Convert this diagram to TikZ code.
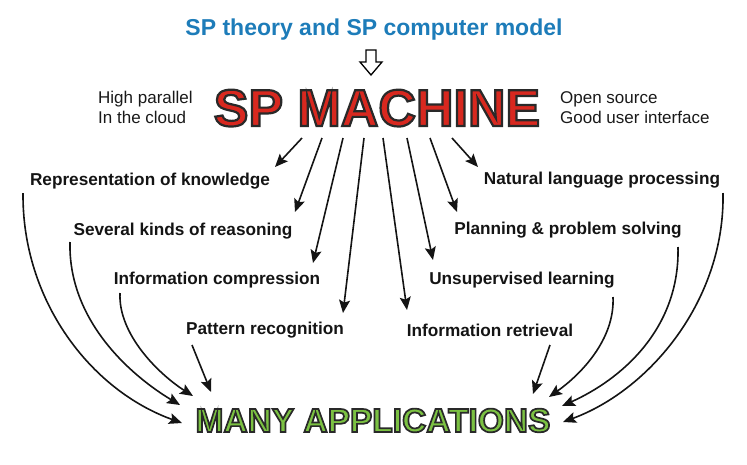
\documentclass[tikz,border=0pt]{standalone}
\usepackage{fontspec}
\setmainfont{Liberation Sans}
\usetikzlibrary{arrows.meta}
\definecolor{spblue}{HTML}{1D7CB9}
\definecolor{spred}{HTML}{D8281F}
\definecolor{spgreen}{HTML}{7BC142}
\newcommand{\outlinedtext}[2]{\special{pdf:literal direct 2 Tr #1 w 0.16 0.16 0.16 RG}#2\special{pdf:literal direct 0 Tr}}
\begin{document}
\begin{tikzpicture}[x=1pt,y=-1pt,
  lbl/.style={anchor=base, font=\fontsize{17.2}{19}\selectfont\bfseries, inner sep=0pt, text=black!92},
  side/.style={anchor=base west, font=\fontsize{17}{19}\selectfont, inner sep=0pt, text=black!90},
  arr/.style={-{Stealth[length=13pt,width=11pt,inset=2.5pt]}, line width=1.6pt, draw=black!92}]
\useasboundingbox (0,0) rectangle (747,464);

% title
\node[anchor=base, inner sep=0pt, text=spblue, font=\fontsize{23}{25}\selectfont\bfseries] (title) at (374,35) {SP theory and SP computer model};
% open arrow
\draw[line width=1.3pt, fill=white, line join=miter] (366,50) -- (376,50) -- (376,62) -- (382,62) -- (371,75) -- (360,62) -- (366,62) -- cycle;
% SP MACHINE
\node[anchor=base, inner sep=0pt, text=spred, font=\fontsize{52}{56}\selectfont\bfseries] (spm) at (377,126) {\outlinedtext{2.2}{SP MACHINE}};
\node[side] (hp) at (98,103) {High parallel};
\node[side] (ic) at (98,123) {In the cloud};
\node[side] (os) at (560,103) {Open source};
\node[side] (gu) at (560,123) {Good user interface};

% labels
\node[lbl] (rep) at (150,185) {Representation of knowledge};
\node[lbl] (sev) at (183,235) {Several kinds of reasoning};
\node[lbl] (icomp) at (217,284) {Information compression};
\node[lbl] (pat) at (265,334) {Pattern recognition};
\node[lbl] (nlp) at (602,184) {Natural language processing};
\node[lbl] (plan) at (568,234) {Planning \& problem solving};
\node[lbl] (unsup) at (522,284) {Unsupervised learning};
\node[lbl] (iret) at (490,336) {Information retrieval};

% MANY APPLICATIONS
\node[anchor=base, inner sep=0pt, text=spgreen, font=\fontsize{33.5}{36}\selectfont\bfseries] (many) at (373,432) {\outlinedtext{1.7}{MANY APPLICATIONS}};

% connector end points
\coordinate (s1) at (302,138); \coordinate (e1) at (275,167);
\coordinate (s2) at (322,138); \coordinate (e2) at (295,212);
\coordinate (s3) at (343,138); \coordinate (e3) at (313,263);
\coordinate (s4) at (364,138); \coordinate (e4) at (343,313);
\coordinate (s5) at (383,138); \coordinate (e5) at (407,310);
\coordinate (s6) at (407,138); \coordinate (e6) at (433,260);
\coordinate (s7) at (430,138); \coordinate (e7) at (457,212);
\coordinate (s8) at (452,138); \coordinate (e8) at (478,167);
\foreach \i in {1,...,8} {\draw[arr] (s\i) -- (e\i);}

\coordinate (l1) at (23,193);  \coordinate (m1) at (182,423);
\coordinate (l2) at (70,242);  \coordinate (m2) at (180,405);
\coordinate (l3) at (120,293); \coordinate (m3) at (193,396);
\coordinate (l4) at (192,345); \coordinate (m4) at (211,392);
\coordinate (r1) at (550,345); \coordinate (n1) at (533,394);
\coordinate (r2) at (613,297); \coordinate (n2) at (549,397);
\coordinate (r3) at (678,247); \coordinate (n3) at (562,406);
\coordinate (r4) at (723,193); \coordinate (n4) at (563,422);

\draw[arr] (l1) .. controls (22,300) and (90,390) .. (m1);
\draw[arr] (l2) .. controls (68,320) and (130,375) .. (m2);
\draw[arr] (l3) .. controls (118,335) and (160,375) .. (m3);
\draw[arr] (l4) -- (m4);
\draw[arr] (r1) -- (n1);
\draw[arr] (r2) .. controls (615,340) and (580,375) .. (n2);
\draw[arr] (r3) .. controls (680,330) and (620,380) .. (n3);
\draw[arr] (r4) .. controls (725,300) and (650,390) .. (n4);
\end{tikzpicture}
\end{document}
